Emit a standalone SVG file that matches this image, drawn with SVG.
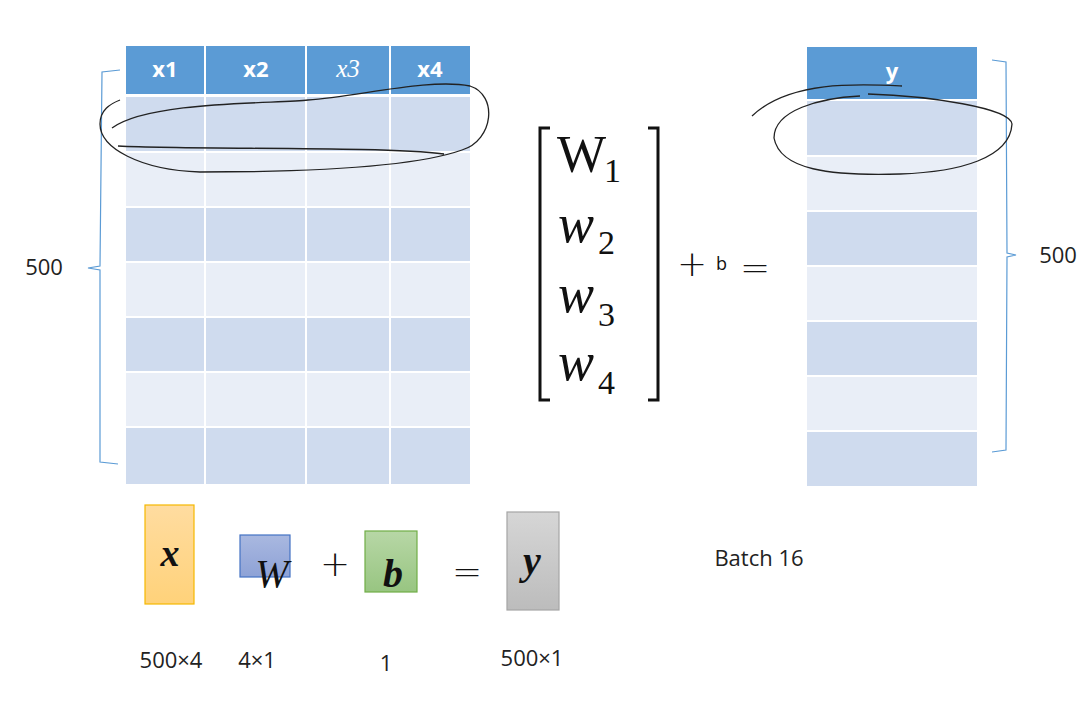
<svg xmlns="http://www.w3.org/2000/svg" width="1086" height="707" viewBox="0 0 1086 707">
<defs>
<linearGradient id="go" x1="0" y1="0" x2="0" y2="1"><stop offset="0" stop-color="#ffdca0"/><stop offset="1" stop-color="#ffd27a"/></linearGradient>
<linearGradient id="gb" x1="0" y1="0" x2="0" y2="1"><stop offset="0" stop-color="#a9b8e0"/><stop offset="1" stop-color="#8ea2d6"/></linearGradient>
<linearGradient id="gg" x1="0" y1="0" x2="0" y2="1"><stop offset="0" stop-color="#b7d7a6"/><stop offset="1" stop-color="#98c581"/></linearGradient>
<linearGradient id="gy" x1="0" y1="0" x2="0" y2="1"><stop offset="0" stop-color="#d6d6d6"/><stop offset="1" stop-color="#bcbcbc"/></linearGradient>
</defs>
<style>
.hd{fill:#5b9bd5}.dk{fill:#cfdbee}.lt{fill:#e9eef7}
.gl{stroke:#fff;stroke-width:2}
.ht{font-family:"Open Sans","Liberation Sans",sans-serif;font-weight:bold;font-size:22px;fill:#fff;text-anchor:middle}
.lb{font-family:"Open Sans","Liberation Sans",sans-serif;font-size:22px;fill:#222;text-anchor:middle}
.m{font-family:"Liberation Serif",serif;fill:#111}
.op{font-family:"DejaVu Sans",sans-serif;font-weight:300;fill:#111;text-anchor:middle}
.br{fill:none;stroke:#5b9bd5;stroke-width:1.2}
.pen{fill:none;stroke:#222;stroke-width:1.3}
</style>
<rect width="1086" height="707" fill="#fff"/>
<g id="tableX">
<rect class="hd" x="126" y="46" width="344" height="48"/>
<rect class="dk" x="126" y="97" width="344" height="55"/>
<rect class="lt" x="126" y="152" width="344" height="55"/>
<rect class="dk" x="126" y="207" width="344" height="55"/>
<rect class="lt" x="126" y="262" width="344" height="55"/>
<rect class="dk" x="126" y="317" width="344" height="55"/>
<rect class="lt" x="126" y="372" width="344" height="55"/>
<rect class="dk" x="126" y="427" width="344" height="57"/>
<g class="gl"><line x1="205" y1="46" x2="205" y2="484"/><line x1="306" y1="46" x2="306" y2="484"/><line x1="390" y1="46" x2="390" y2="484"/>
<line x1="126" y1="96" x2="470" y2="96"/><line x1="126" y1="152" x2="470" y2="152"/><line x1="126" y1="207" x2="470" y2="207"/><line x1="126" y1="262" x2="470" y2="262"/><line x1="126" y1="317" x2="470" y2="317"/><line x1="126" y1="372" x2="470" y2="372"/><line x1="126" y1="427" x2="470" y2="427"/></g>
<text class="ht" x="165" y="77">x1</text><text class="ht" x="256" y="77">x2</text>
<text class="ht" x="348" y="77" style="font-family:'Liberation Serif',serif;font-style:italic;font-weight:normal;font-size:25px">x3</text>
<text class="ht" x="430" y="77">x4</text>
</g>
<g id="tableY">
<rect class="hd" x="807" y="47" width="170" height="52"/>
<rect class="dk" x="807" y="101" width="170" height="55"/>
<rect class="lt" x="807" y="156" width="170" height="55"/>
<rect class="dk" x="807" y="211" width="170" height="55"/>
<rect class="lt" x="807" y="266" width="170" height="55"/>
<rect class="dk" x="807" y="321" width="170" height="55"/>
<rect class="lt" x="807" y="376" width="170" height="55"/>
<rect class="dk" x="807" y="431" width="170" height="55"/>
<g class="gl"><line x1="807" y1="156" x2="977" y2="156"/><line x1="807" y1="211" x2="977" y2="211"/><line x1="807" y1="266" x2="977" y2="266"/><line x1="807" y1="321" x2="977" y2="321"/><line x1="807" y1="376" x2="977" y2="376"/><line x1="807" y1="431" x2="977" y2="431"/></g>
<text class="ht" x="892" y="79">y</text>
</g>
<g id="braces">
<path class="br" d="M120,70 L102,72 L100,266 L88,268 L100,270 L100,462 L118,464"/>
<path class="br" d="M992,60 L1006,62 L1007,253 L1016,255 L1007,257 L1006,450 L992,452"/>
<text class="lb" x="44" y="275">500</text>
<text class="lb" x="1058" y="263">500</text>
</g>
<g id="pen">
<path class="pen" d="M112,128 C150,100 280,104 308,100 C360,96 430,78 470,86 C498,95 494,140 462,150 C400,172 250,172 200,172 C140,170 100,148 100,124 C100,110 110,104 120,100 M118,146 C200,150 380,146 444,154"/>
<path class="pen" d="M752,116 C790,80 860,84 902,86 M868,94 C930,96 1010,108 1012,124 C1010,158 960,172 900,174 C830,176 780,170 774,138 C774,110 820,98 860,96"/>
</g>
<g id="matrix">
<path d="M550,128 H540 V400 H550" fill="none" stroke="#111" stroke-width="3"/>
<path d="M648,128 H658 V400 H648" fill="none" stroke="#111" stroke-width="3"/>
<text class="m" x="557" y="172" font-size="52">W</text><text class="m" x="604" y="182" font-size="34">1</text>
<text class="m" x="558" y="242" font-size="54" font-style="italic">w</text><text class="m" x="598" y="254" font-size="34">2</text>
<text class="m" x="558" y="312" font-size="54" font-style="italic">w</text><text class="m" x="598" y="326" font-size="34">3</text>
<text class="m" x="558" y="380" font-size="54" font-style="italic">w</text><text class="m" x="598" y="394" font-size="34">4</text>
<text class="op" x="692" y="276" font-size="36">+</text>
<text x="716" y="270" font-family="Open Sans,sans-serif" font-size="18" fill="#111">b</text>
<text class="op" x="755" y="280" font-size="36">=</text>
</g>
<g id="eq">
<rect x="145" y="505" width="49" height="99" fill="url(#go)" stroke="#f5b800" stroke-width="1.2"/>
<text class="m" x="170" y="566" font-size="38" font-style="italic" font-weight="bold" text-anchor="middle">x</text>
<rect x="240" y="535" width="50" height="42" fill="url(#gb)" stroke="#4472c4" stroke-width="1.2"/>
<text class="m" x="272" y="587" font-size="40" font-style="italic" text-anchor="middle">W</text>
<text class="op" x="335" y="576" font-size="36">+</text>
<rect x="365" y="531" width="52" height="61" fill="url(#gg)" stroke="#70ad47" stroke-width="1.2"/>
<text class="m" x="393" y="587" font-size="40" font-style="italic" font-weight="bold" text-anchor="middle">b</text>
<text class="op" x="467" y="584" font-size="36">=</text>
<rect x="507" y="512" width="52" height="98" fill="url(#gy)" stroke="#a5a5a5" stroke-width="1.2"/>
<text class="m" x="532" y="574" font-size="40" font-style="italic" font-weight="bold" text-anchor="middle">y</text>
<text class="lb" x="171" y="668">500×4</text>
<text class="lb" x="257" y="668">4×1</text>
<text class="lb" x="386" y="671">1</text>
<text class="lb" x="532" y="666">500×1</text>
<text class="lb" x="759" y="566">Batch 16</text>
</g>
</svg>
